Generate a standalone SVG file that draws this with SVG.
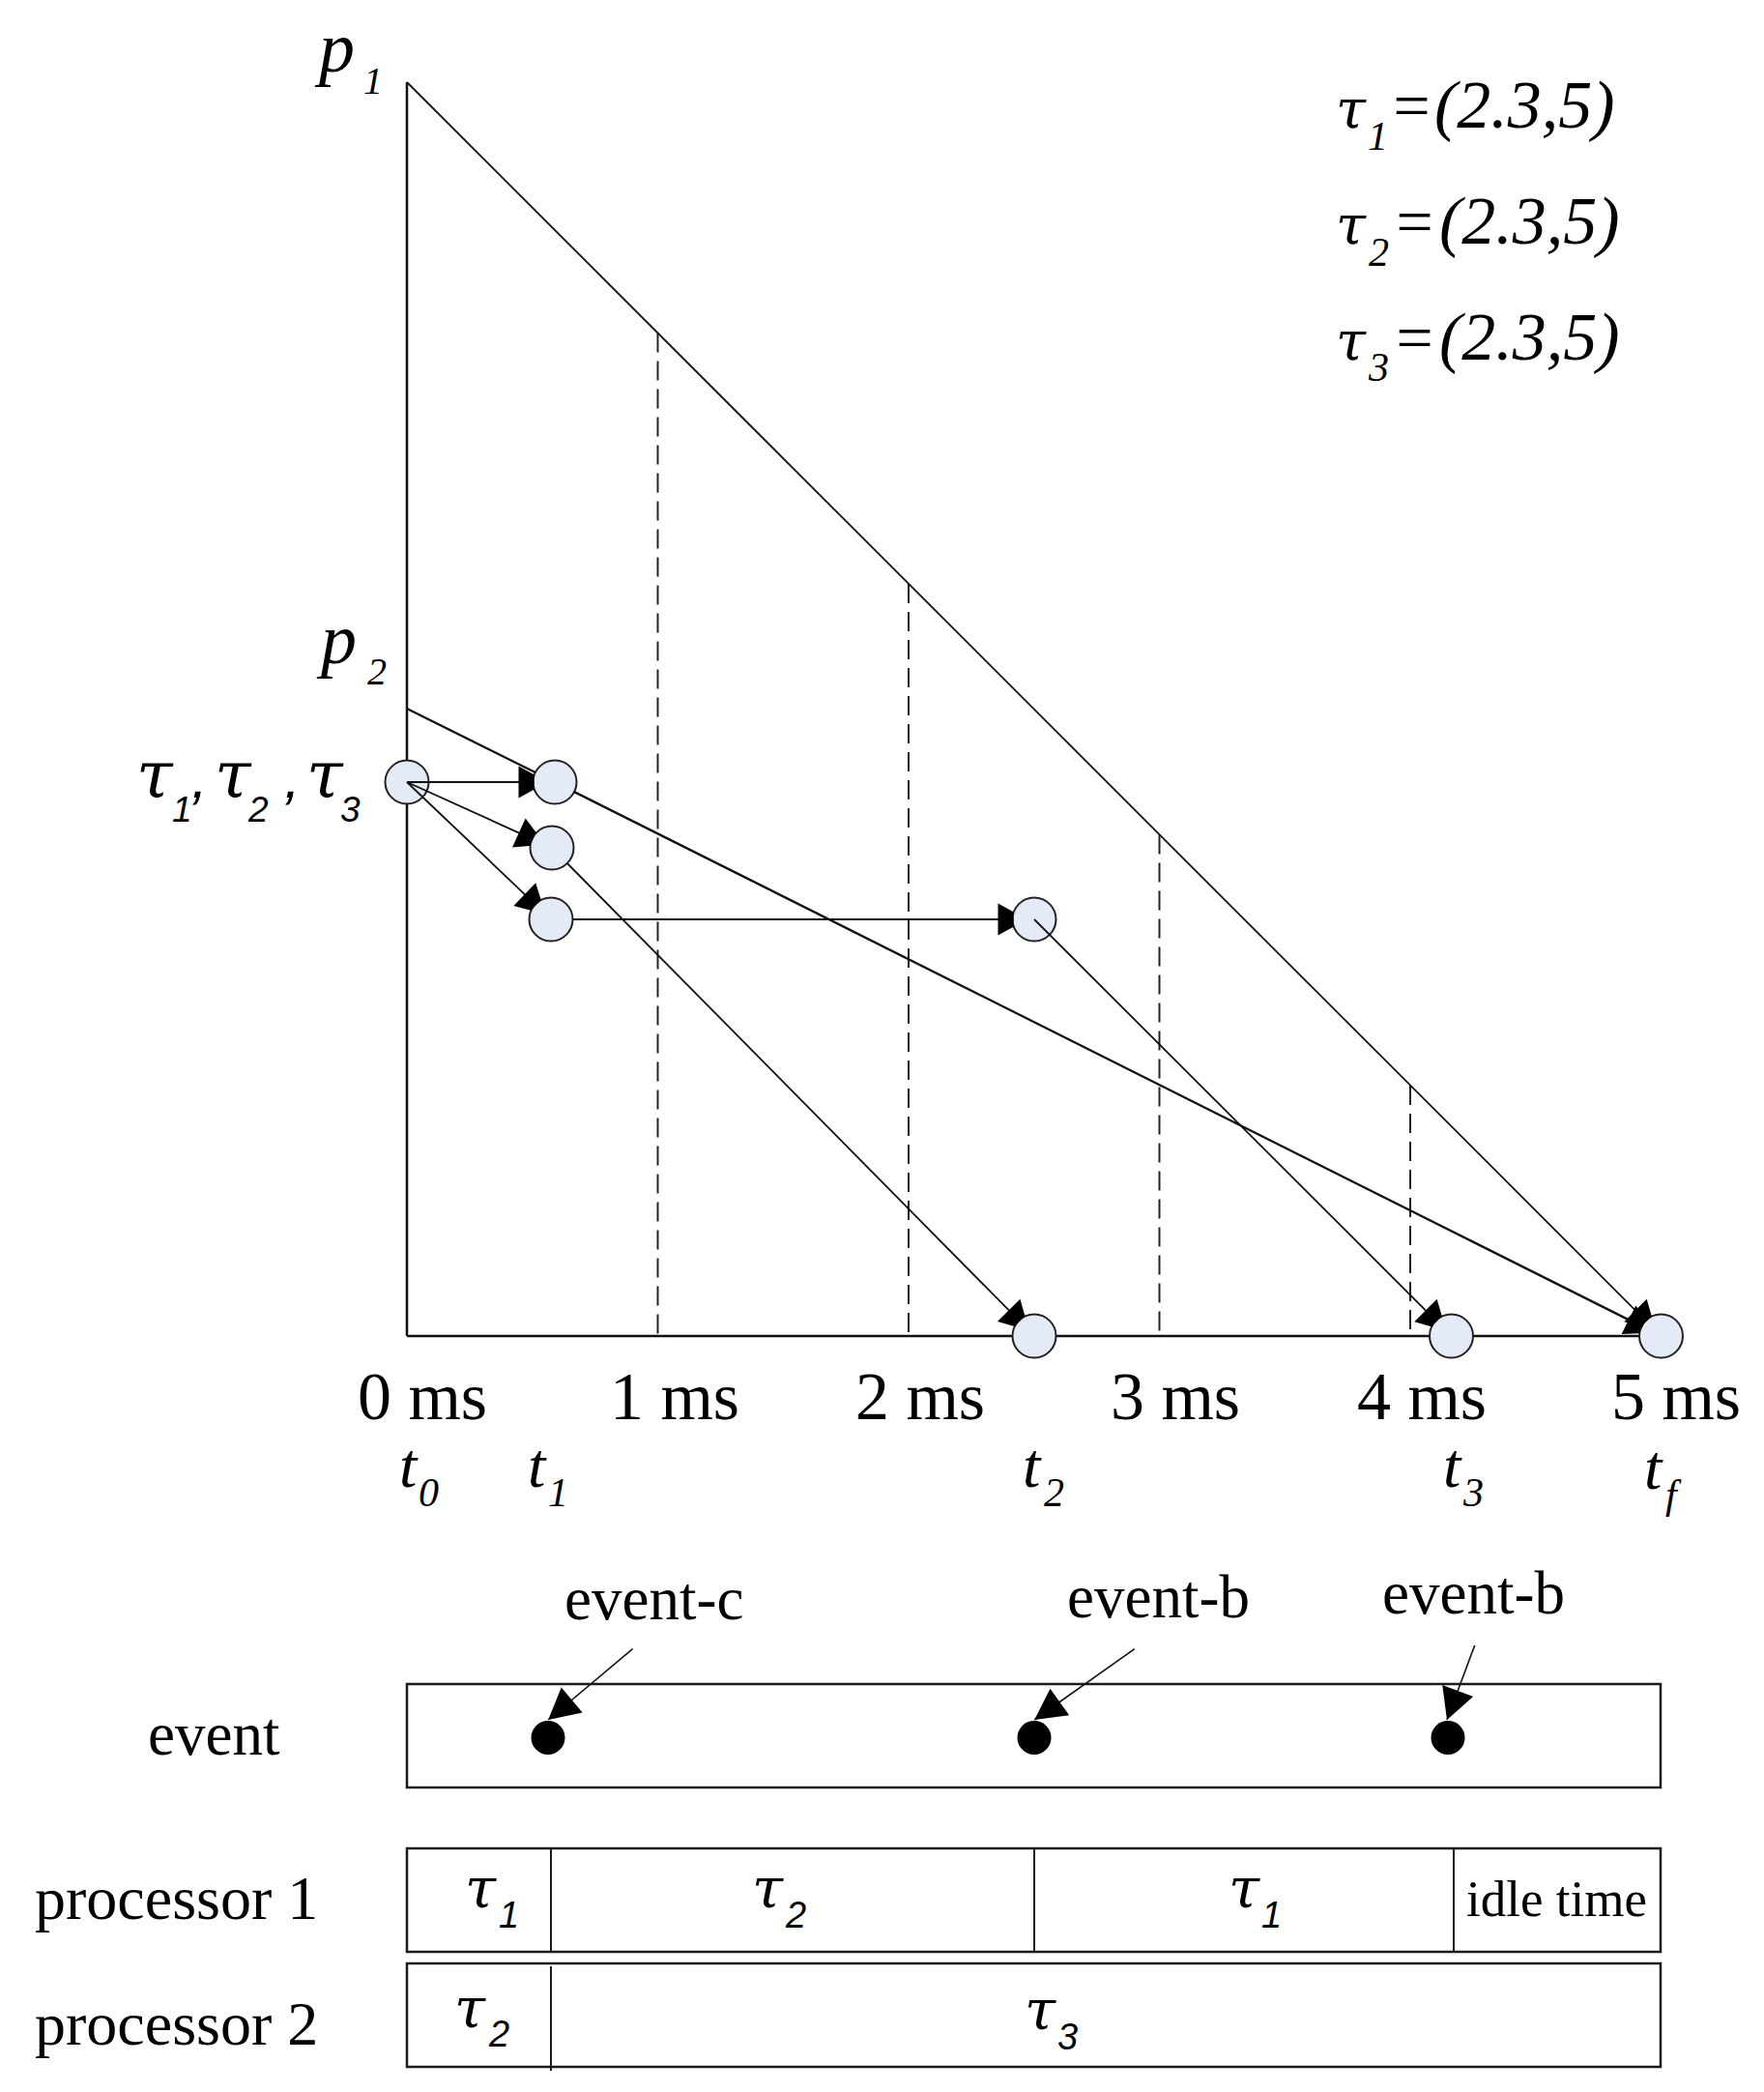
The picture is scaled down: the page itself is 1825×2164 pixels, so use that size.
<svg xmlns="http://www.w3.org/2000/svg" width="1825" height="2164" viewBox="0 0 1825 2164">
<style>
 .ax{stroke:#111;stroke-width:2.5;fill:none}
 .dash{stroke:#222;stroke-width:2;stroke-dasharray:20 9;fill:none}
 .nd{fill:#E4EBF7;stroke:#222;stroke-width:2}
 .cn{stroke:#111;stroke-width:2.3;fill:none}
 .cna{stroke:#111;stroke-width:1.8;fill:none;marker-end:url(#ah)}
 .cnb{stroke:#111;stroke-width:2.3;fill:none;marker-end:url(#ah)}
 .ev{stroke:#111;stroke-width:1.6;fill:none;marker-end:url(#ah2)}
 .dot{fill:#000}
 .box{fill:none;stroke:#1a1a1a;stroke-width:2.5}
 .div{stroke:#1a1a1a;stroke-width:2}
 text{fill:#000}
 .rm{font-family:"Liberation Serif","Times New Roman",serif}
 .it{font-family:"Liberation Serif","Times New Roman",serif;font-style:italic}
 .gk{font-family:"DejaVu Serif","Liberation Serif",serif;font-style:italic}
 .si{font-family:"Liberation Sans",Arial,sans-serif;font-style:italic}
</style>
<defs>
 <marker id="ah" markerUnits="userSpaceOnUse" markerWidth="17" markerHeight="34" refX="16" refY="16.5" orient="auto" overflow="visible"><path d="M0,0 L16,8.8 L16,24.2 L0,33 z" fill="#000"/></marker>
 <marker id="ah2" markerUnits="userSpaceOnUse" markerWidth="34" markerHeight="36" refX="32" refY="17" orient="auto" overflow="visible"><path d="M0,0 L32,17 L0,34 z" fill="#000"/></marker>
</defs>
<rect x="0" y="0" width="1825" height="2164" fill="#fff"/>

<g id="axes">
 <line class="ax" x1="421" y1="85" x2="421" y2="1382"/>
 <line class="ax" x1="421" y1="1382" x2="1696" y2="1382"/>
 <line class="dash" x1="680.5" y1="344.5" x2="680.5" y2="1382"/>
 <line class="dash" x1="940" y1="604" x2="940" y2="1382"/>
 <line class="dash" x1="1199.5" y1="863.5" x2="1199.5" y2="1382"/>
 <line class="dash" x1="1459" y1="1123" x2="1459" y2="1382"/>
</g>

<g id="node-s"><circle class="nd" cx="421" cy="809" r="22.5"/></g>
<g id="node-c1"><circle class="nd" cx="574" cy="809" r="22.5"/></g>
<g id="node-c2"><circle class="nd" cx="571" cy="877" r="22.5"/></g>
<g id="node-c3"><circle class="nd" cx="570" cy="951" r="22.5"/></g>
<g id="node-m"><circle class="nd" cx="1070" cy="951" r="22.5"/></g>
<g id="node-t2"><circle class="nd" cx="1070" cy="1382" r="22.5"/></g>
<g id="node-t3"><circle class="nd" cx="1501.5" cy="1382" r="22.5"/></g>
<g id="node-tf"><circle class="nd" cx="1718.5" cy="1382" r="22.5"/></g>

<g id="connectors">
 <line class="cna" x1="421" y1="85" x2="1703.3" y2="1366.8"/>
 <line class="cn" x1="421" y1="733" x2="553.8" y2="799"/>
 <line class="cnb" x1="594.1" y1="819.1" x2="1699.3" y2="1372.4"/>
 <line class="cna" x1="421" y1="809" x2="552.5" y2="809"/>
 <line class="cna" x1="421" y1="809" x2="551.4" y2="868.1"/>
 <line class="cna" x1="421" y1="809" x2="554.4" y2="936.2"/>
 <line class="cna" x1="586.8" y1="893" x2="1054.9" y2="1366.7"/>
 <line class="cna" x1="592.5" y1="951" x2="1048.5" y2="951"/>
 <line class="cna" x1="1070" y1="951" x2="1486.3" y2="1366.8"/>
 <line class="ev" x1="654.5" y1="1705.6" x2="567.2" y2="1779"/>
 <line class="ev" x1="1173.8" y1="1705.6" x2="1070.2" y2="1779"/>
 <line class="ev" x1="1525.7" y1="1702" x2="1497" y2="1779"/>
</g>

<g id="labels-graph">
 <text class="it" font-size="74" x="330" y="74">p<tspan font-size="40" x="376" y="97">1</tspan></text>
 <text class="it" font-size="74" x="332" y="686">p<tspan font-size="40" x="380" y="708">2</tspan></text>

 <text class="gk" font-size="68" x="141" y="825">τ<tspan class="si" font-size="37" x="178" y="850">1</tspan><tspan class="si" font-size="60" x="198" y="825">,</tspan><tspan x="222" y="825">τ</tspan><tspan class="si" font-size="37" x="257" y="850">2</tspan><tspan class="si" font-size="60" x="294" y="825">,</tspan><tspan x="317" y="825">τ</tspan><tspan class="si" font-size="37" x="352" y="850">3</tspan></text>

 <text class="gk" font-size="56" x="1382" y="132">τ<tspan class="it" font-size="42" x="1415" y="155">1</tspan><tspan class="rm" font-size="68" x="1437" y="132">=</tspan><tspan class="it" font-size="70" x="1484" y="132">(2.3,5)</tspan></text>
 <text class="gk" font-size="56" x="1382" y="252">τ<tspan class="it" font-size="42" x="1416" y="275">2</tspan><tspan class="rm" font-size="68" x="1440" y="252">=</tspan><tspan class="it" font-size="70" x="1489" y="252">(2.3,5)</tspan></text>
 <text class="gk" font-size="56" x="1382" y="372">τ<tspan class="it" font-size="42" x="1416" y="394">3</tspan><tspan class="rm" font-size="68" x="1440" y="372">=</tspan><tspan class="it" font-size="70" x="1489" y="372">(2.3,5)</tspan></text>

 <g class="rm" font-size="70" text-anchor="middle">
  <text x="437" y="1468">0 ms</text>
  <text x="698" y="1468">1 ms</text>
  <text x="952" y="1468">2 ms</text>
  <text x="1216" y="1468">3 ms</text>
  <text x="1471" y="1468">4 ms</text>
  <text x="1734" y="1468">5 ms</text>
 </g>

 <text class="it" font-size="66" x="413" y="1538">t<tspan font-size="42" x="433" y="1558">0</tspan></text>
 <text class="it" font-size="66" x="546" y="1538">t<tspan font-size="42" x="567" y="1558">1</tspan></text>
 <text class="it" font-size="66" x="1058" y="1538">t<tspan font-size="42" x="1080" y="1558">2</tspan></text>
 <text class="it" font-size="66" x="1493" y="1538">t<tspan font-size="42" x="1514" y="1558">3</tspan></text>
 <text class="it" font-size="66" x="1701" y="1540">t<tspan font-size="42" x="1723" y="1560">f</tspan></text>
</g>

<g id="event-row">
 <rect class="box" x="421" y="1742" width="1297" height="107"/>
 <circle class="dot" cx="567" cy="1797.5" r="17.5"/>
 <circle class="dot" cx="1070" cy="1797.5" r="17.5"/>
 <circle class="dot" cx="1498" cy="1797.5" r="17.5"/>
 <text class="rm" font-size="63" x="153" y="1815">event</text>
 <text class="rm" font-size="63" x="584" y="1675">event-c</text>
 <text class="rm" font-size="63" x="1104" y="1673">event-b</text>
 <text class="rm" font-size="63" x="1430" y="1669">event-b</text>
</g>

<g id="processor-1">
 <rect class="box" x="421" y="1912" width="1297" height="107"/>
 <line class="div" x1="570" y1="1912" x2="570" y2="2019"/>
 <line class="div" x1="1070" y1="1912" x2="1070" y2="2019"/>
 <line class="div" x1="1504" y1="1912" x2="1504" y2="2019"/>
 <text class="rm" font-size="64" x="36" y="1985">processor 1</text>
 <text class="gk" font-size="58" x="481" y="1973">τ<tspan class="si" font-size="38" x="516" y="1994">1</tspan></text>
 <text class="gk" font-size="58" x="778" y="1973">τ<tspan class="si" font-size="38" x="813" y="1994">2</tspan></text>
 <text class="gk" font-size="58" x="1271" y="1973">τ<tspan class="si" font-size="38" x="1305" y="1994">1</tspan></text>
 <text class="rm" font-size="53" x="1517" y="1982">idle time</text>
</g>

<g id="processor-2">
 <rect class="box" x="421" y="2031" width="1297" height="107"/>
 <line class="div" x1="570" y1="2034" x2="570" y2="2142"/>
 <text class="rm" font-size="64" x="36" y="2115">processor 2</text>
 <text class="gk" font-size="58" x="470" y="2097">τ<tspan class="si" font-size="38" x="506" y="2117">2</tspan></text>
 <text class="gk" font-size="58" x="1060" y="2099">τ<tspan class="si" font-size="38" x="1094" y="2120">3</tspan></text>
</g>
</svg>
